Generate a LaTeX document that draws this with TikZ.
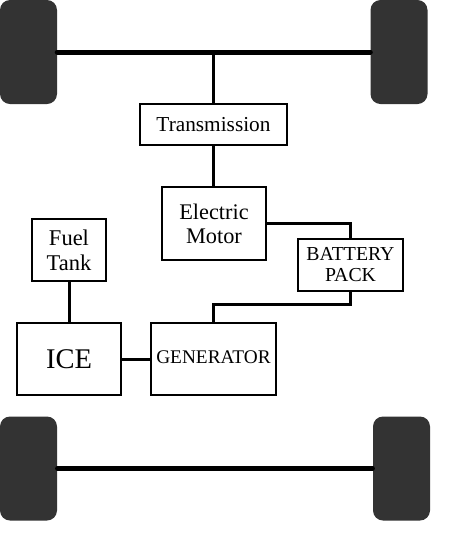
\documentclass[tikz,border=0pt]{standalone}
\usepackage{fontspec}
\setmainfont{Liberation Serif}
\begin{document}
\begin{tikzpicture}[x=1pt,y=-1pt,
  wheel/.style={draw=none,fill=wheelgray,rounded corners=10pt,minimum width=57pt,minimum height=104pt,inner sep=0pt},
  box/.style={draw=black,line width=1.3pt,inner sep=0pt,align=center,fill=white},
  axle/.style={line width=5pt,line cap=round},
  link/.style={line width=3pt},
  ]
\definecolor{wheelgray}{HTML}{333333}
\useasboundingbox (0,0) rectangle (474,542);
% wheels
\node[wheel] (tl) at (28.5,52) {};
\node[wheel] (tr) at (399,52) {};
\node[wheel] (bl) at (28.5,468.5) {};
\node[wheel] (br) at (401.5,468.5) {};
\draw[axle] (tl.east) -- (tr.west);
\draw[axle,line width=4.2pt] (bl.east) -- (br.west);
% boxes
\node[box,minimum width=147pt,minimum height=41pt,font=\fontsize{21.3}{24}\selectfont] (trans) at (213.5,124.5) {Transmission};
\node[box,minimum width=104pt,minimum height=73pt,font=\fontsize{22.3}{24}\selectfont] (em) at (214,223.5) {Electric\\Motor};
\node[box,minimum width=105pt,minimum height=52pt,font=\fontsize{19.8}{21}\selectfont] (bat) at (350.5,265) {BATTERY\\PACK};
\node[box,minimum width=74pt,minimum height=62pt,font=\fontsize{22.5}{25}\selectfont] (fuel) at (69,250) {Fuel\\Tank};
\node[box,minimum width=104pt,minimum height=72pt,font=\fontsize{28.5}{30}\selectfont] (ice) at (69,359) {ICE};
\node[box,minimum width=125pt,minimum height=72pt,font=\fontsize{19.3}{22}\selectfont] (gen) at (213.5,359) {\raisebox{3pt}{GENERATOR}};
% connectors
\coordinate (ax) at (trans.north |- tl.east);
\draw[link] (ax) -- (trans.north);
\draw[link] (trans.south) -- (trans.south |- em.north);
\draw[link] (em.east) -| (bat.north);
\coordinate (mid) at ([yshift=-13pt]bat.south);
\draw[link] (bat.south) -- (mid) -| (gen.north);
\draw[link] (ice.east) -- (gen.west);
\draw[link] (fuel.south) -- (ice.north);
\end{tikzpicture}
\end{document}
